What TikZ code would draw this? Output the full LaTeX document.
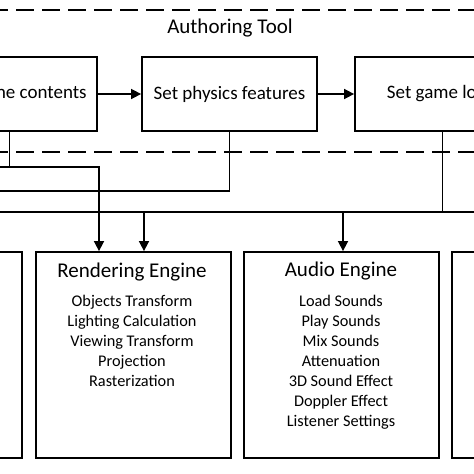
\documentclass[tikz,border=0pt]{standalone}
\usepackage{fontspec}
\setmainfont{Carlito}
\usetikzlibrary{arrows.meta}
\begin{document}
\begin{tikzpicture}[x=1pt,y=-1pt,
  topbox/.style={draw,line width=1.8pt,minimum width=175pt,minimum height=74pt,inner sep=0pt,font=\fontsize{19}{22}\selectfont},
  engbox/.style={draw,line width=1.8pt,minimum width=195pt,minimum height=206pt,inner sep=0pt},
  engtitle/.style={font=\fontsize{21}{24}\selectfont},
  englist/.style={align=center,font=\fontsize{16.3}{20}\selectfont,anchor=north,inner sep=0pt},
  sep/.style={line width=2.4pt,dash pattern=on 18pt off 8pt},
  conn/.style={line width=1.6pt},
  arr/.style={conn,-{Triangle[length=10pt,width=10pt]}}]
\useasboundingbox (0,0) rectangle (474,474);
\clip (0,0) rectangle (474,474);
% separators
\draw[sep] (-10,10) -- (490,10);
\node (title) at (230,28) {\fontsize{21}{24}\selectfont Authoring Tool};
% top boxes
\node[topbox] (b1) at (9.5,94) {\hspace*{12pt}Set game contents};
\node[topbox] (b2) at (229.5,94) {Set physics features};
\node[topbox] (b3) at (442.5,94) {Set game logic};
\draw[arr] (b1.east) -- (b2.west);
\draw[arr] (b2.east) -- (b3.west);
% bottom boxes
\node[engbox] (left) at (-75.5,355) {};
\node[engbox] (rend) at (133.5,355) {};
\node[engbox] (audio) at (341.5,355) {};
\node[engbox] (right) at (549.5,355) {};
\node[engtitle] (rtitle) at (132,272) {Rendering Engine};
\node[englist] (rlist) at (132,295) {Objects Transform\\Lighting Calculation\\Viewing Transform\\Projection\\Rasterization};
\node[engtitle] (atitle) at (341,271) {Audio Engine};
\node[englist] (alist) at (341,295) {Load Sounds\\Play Sounds\\Mix Sounds\\Attenuation\\3D Sound Effect\\Doppler Effect\\Listener Settings};
% connectors
\coordinate (L1) at (-10,167);
\coordinate (j1) at (99,167);
\coordinate (L2) at (-10,191);
\coordinate (L3) at (-10,212);
\coordinate (R3) at (490,212);
\coordinate (j2) at (144,212);
\coordinate (j3) at (343,212);
\draw[conn] (b1.south) -- (b1.south |- L1);
\draw[arr] (L1) -- (j1) -- (j1 |- rend.north);
\draw[conn] (b2.south) |- (L2);
\draw[conn] (b3.south) |- (L3);
\draw[conn] (b3.south |- L3) -- (R3);
\draw[arr] (j2) -- (j2 |- rend.north);
\draw[arr] (j3) -- (j3 |- audio.north);
\draw[sep] (-10,152) -- (490,152);
\end{tikzpicture}
\end{document}
